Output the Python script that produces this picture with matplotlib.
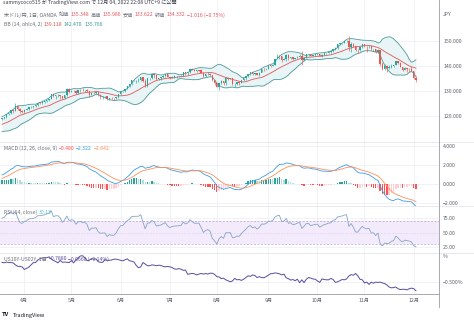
import numpy as np
import pandas as pd
import matplotlib
matplotlib.use("Agg")
import matplotlib.pyplot as plt
from matplotlib.lines import Line2D
from matplotlib.ticker import FixedLocator, FuncFormatter

plt.rcParams['font.family'] = ['Noto Sans CJK JP', 'DejaVu Sans']

W, H = 474, 326

# --- data: USD/JPY daily (OANDA) ---
# closes before the visible range, only used to warm up the indicators
warm_close = [114.69, 114.39, 114.99, 115.22, 115.09, 115.55, 115.56, 116.03, 115.44,
              115.58, 115.59, 115.47, 114.95, 115.00, 114.74, 115.11, 114.99, 115.53,
              115.58, 114.98, 114.88, 115.47, 115.47, 114.79, 115.31, 115.73, 115.84,
              116.14, 117.31, 118.22, 118.31, 118.72, 118.63]

dates = pd.bdate_range('2022-03-18', '2022-12-02')

close = [119.16,
         119.48, 120.80, 121.18, 122.32, 122.04,
         123.85, 122.83, 121.86, 121.68, 122.51,
         122.76, 123.61, 123.79, 123.97, 124.36,
         125.39, 125.37, 125.61, 125.87, 126.43,
         126.98, 128.89, 127.88, 128.42, 128.50,
         128.13, 127.28, 128.38, 130.86, 129.78,
         130.16, 130.10, 129.10, 130.23, 130.56,
         130.28, 130.45, 129.96, 128.33, 129.23,
         129.18, 129.41, 128.24, 127.77, 127.87,
         127.87, 126.81, 127.30, 127.11, 127.09,
         127.63, 128.74, 129.83, 129.89, 130.88,
         131.87, 132.62, 134.23, 134.38, 134.40,
         134.40, 135.46, 133.97, 132.18, 135.04,
         135.06, 136.64, 136.22, 134.95, 135.23,
         135.44, 136.12, 136.61, 135.73, 135.23,
         135.71, 135.88, 135.93, 135.99, 136.10,
         137.43, 137.03, 137.42, 138.94, 138.55,
         138.17, 138.21, 138.20, 137.35, 136.10,
         136.68, 136.93, 136.55, 134.26, 133.25,
         131.61, 133.13, 133.82, 133.00, 135.02,
         134.98, 135.08, 132.89, 132.99, 133.46,
         133.28, 134.21, 135.05, 135.87, 136.89,
         137.46, 136.76, 137.19, 136.51, 137.23,
         138.74, 138.71, 138.96, 140.21, 140.19,
         140.50, 142.74, 143.78, 144.04, 142.52,
         142.85, 144.55, 143.18, 143.52, 142.95,
         143.19, 143.72, 144.09, 142.38, 143.34,
         144.74, 144.78, 144.18, 144.45, 144.74,
         144.83, 144.07, 144.59, 145.12, 145.33,
         145.72, 145.82, 146.88, 147.19, 148.70,
         149.02, 149.26, 149.88, 150.13, 147.65,
         148.97, 147.96, 146.36, 146.27, 147.50,
         148.71, 148.17, 147.90, 148.06, 146.61,
         146.63, 145.65, 146.43, 140.91, 138.78,
         139.92, 139.34, 139.50, 140.20, 140.38,
         142.15, 141.20, 139.56, 138.56, 139.23,
         138.92, 138.68, 138.07, 135.35, 134.33]

high = [119.4,
        119.5, 121.0, 121.4, 122.4, 122.4,
        125.1, 124.3, 123.3, 122.4, 123.0,
        123.1, 123.7, 124.0, 124.2, 124.7,
        125.8, 125.6, 126.3, 126.0, 126.6,
        127.0, 129.0, 129.4, 128.5, 128.8,
        128.6, 128.2, 128.6, 131.2, 131.1,
        130.4, 130.4, 130.4, 130.4, 131.0,
        131.3, 130.5, 130.8, 130.0, 129.4,
        129.5, 129.7, 129.6, 128.9, 128.0,
        128.0, 127.9, 127.4, 127.6, 127.3,
        127.8, 128.8, 130.1, 130.0, 130.9,
        131.9, 133.0, 134.5, 134.6, 134.6,
        135.2, 135.6, 135.6, 134.7, 135.4,
        135.4, 136.7, 136.7, 136.3, 135.4,
        135.6, 136.4, 137.0, 136.8, 135.7,
        136.0, 136.4, 136.0, 136.2, 136.6,
        137.7, 137.8, 137.6, 139.4, 139.3,
        138.9, 138.4, 138.4, 138.9, 137.5,
        136.9, 137.5, 137.4, 136.5, 134.5,
        133.4, 133.3, 134.5, 134.0, 135.5,
        135.6, 135.4, 135.2, 133.2, 133.7,
        133.8, 134.4, 135.4, 136.0, 137.0,
        137.7, 137.7, 137.3, 137.3, 137.6,
        139.0, 139.1, 139.1, 140.3, 140.4,
        140.8, 143.0, 145.0, 144.4, 144.1,
        143.3, 144.9, 144.9, 143.8, 143.7,
        143.4, 143.9, 144.7, 145.9, 143.6,
        144.8, 144.9, 144.9, 144.6, 144.8,
        145.4, 144.9, 144.7, 145.3, 145.4,
        145.9, 146.0, 146.9, 147.7, 148.9,
        149.1, 149.4, 149.9, 150.3, 151.9,
        149.7, 149.1, 148.0, 146.7, 147.9,
        148.8, 148.8, 148.1, 148.4, 148.1,
        147.0, 146.8, 146.8, 146.6, 141.7,
        140.8, 140.6, 140.3, 140.8, 140.5,
        142.2, 142.2, 141.5, 139.7, 139.5,
        139.2, 139.1, 139.9, 138.1, 136.0]

low = [118.4,
       118.9, 119.2, 120.4, 121.0, 121.4,
       122.0, 122.4, 121.2, 121.3, 121.3,
       122.3, 122.6, 123.2, 123.3, 123.8,
       124.1, 124.9, 124.7, 125.2, 125.8,
       126.1, 126.9, 127.5, 127.0, 127.7,
       127.0, 126.9, 127.0, 128.2, 129.3,
       129.5, 129.8, 128.8, 128.7, 129.8,
       130.0, 129.8, 129.7, 127.5, 128.4,
       128.8, 128.9, 128.0, 127.0, 127.0,
       127.2, 126.4, 126.6, 126.8, 126.6,
       126.9, 127.4, 128.6, 129.5, 129.8,
       130.8, 131.7, 132.5, 133.9, 133.4,
       133.6, 134.2, 133.5, 131.5, 131.7,
       134.3, 134.8, 135.4, 134.3, 134.5,
       134.5, 135.2, 135.8, 135.5, 134.7,
       135.1, 135.3, 135.3, 135.6, 135.6,
       136.1, 136.6, 136.4, 137.3, 138.4,
       137.9, 137.7, 137.9, 137.1, 135.6,
       135.6, 136.3, 136.2, 134.2, 132.5,
       131.6, 130.4, 132.8, 132.5, 132.5,
       134.4, 134.7, 132.5, 131.7, 132.6,
       132.6, 133.2, 134.1, 134.6, 135.6,
       136.6, 136.4, 136.3, 136.3, 136.1,
       137.6, 138.1, 138.4, 138.7, 139.6,
       140.0, 140.5, 143.2, 143.0, 141.5,
       142.5, 142.0, 142.6, 143.0, 142.6,
       142.8, 143.1, 143.5, 140.3, 142.1,
       143.3, 144.2, 144.0, 144.1, 144.2,
       144.5, 143.9, 143.8, 144.4, 144.8,
       145.3, 145.3, 145.8, 146.4, 147.0,
       148.6, 148.8, 149.2, 149.6, 146.2,
       145.5, 147.6, 146.1, 145.1, 146.0,
       147.3, 147.5, 145.7, 147.3, 146.4,
       146.1, 145.3, 145.3, 140.2, 138.5,
       138.4, 137.7, 138.7, 139.3, 139.6,
       140.4, 141.0, 139.5, 138.0, 138.3,
       137.5, 137.8, 137.9, 135.0, 133.6]

# US10Y-US02Y spread (%)
spread = [0.20,
          0.18, 0.21, 0.19, 0.19, 0.18,
          0.11, 0.06, 0.06, 0.04, -0.05,
          -0.01, 0.03, 0.11, 0.19, 0.19,
          0.28, 0.33, 0.35, 0.35, 0.36,
          0.39, 0.32, 0.26, 0.23, 0.18,
          0.27, 0.20, 0.21, 0.20, 0.19,
          0.26, 0.18, 0.28, 0.35, 0.42,
          0.43, 0.36, 0.26, 0.27, 0.33,
          0.31, 0.32, 0.22, 0.20, 0.20,
          0.29, 0.27, 0.27, 0.28, 0.31,
          0.31, 0.29, 0.27, 0.25, 0.29,
          0.32, 0.25, 0.24, 0.21, 0.09,
          0.01, 0.04, 0.19, 0.14, 0.08,
          0.08, 0.11, 0.10, 0.08, 0.10,
          0.09, 0.06, 0.04, 0.06, 0.04,
          0.02, -0.03, -0.04, -0.02, -0.04,
          -0.08, -0.07, -0.22, -0.20, -0.19,
          -0.20, -0.24, -0.21, -0.19, -0.21,
          -0.19, -0.21, -0.18, -0.18, -0.22,
          -0.30, -0.31, -0.37, -0.35, -0.41,
          -0.44, -0.48, -0.45, -0.36, -0.41,
          -0.40, -0.43, -0.39, -0.33, -0.27,
          -0.29, -0.24, -0.26, -0.33, -0.30,
          -0.33, -0.34, -0.30, -0.25, -0.20,
          -0.19, -0.17, -0.18, -0.20, -0.24,
          -0.21, -0.34, -0.37, -0.42, -0.40,
          -0.44, -0.39, -0.51, -0.41, -0.51,
          -0.39, -0.33, -0.35, -0.38, -0.39,
          -0.45, -0.50, -0.38, -0.40, -0.41,
          -0.41, -0.36, -0.40, -0.50, -0.48,
          -0.44, -0.40, -0.41, -0.38, -0.28,
          -0.23, -0.25, -0.19, -0.27, -0.39,
          -0.41, -0.52, -0.49, -0.57, -0.49,
          -0.53, -0.49, -0.50, -0.49, -0.52,
          -0.54, -0.59, -0.66, -0.69, -0.68,
          -0.66, -0.72, -0.75, -0.74, -0.74,
          -0.76, -0.72, -0.70, -0.72, -0.79]

month_labels = ['4月', '5月', '6月', '7月', '8月', '9月', '10月', '11月', '12月']

# --- indicators ---
close = np.array(close)
high = np.array(high)
low = np.array(low)
opn = np.r_[warm_close[-1], close[:-1]]   # FX daily open = previous close
nw = len(warm_close)
n = len(close)
x = np.arange(n)

all_close = pd.Series(np.r_[warm_close, close])
hlc4 = pd.Series(np.r_[warm_close, (opn + high + low + close) / 4])
basis = hlc4.rolling(14).mean()
dev = hlc4.rolling(14).std(ddof=0)
bb_up = (basis + 2 * dev).values[nw:]
bb_lo = (basis - 2 * dev).values[nw:]
bb_mid = basis.values[nw:]

macd_all = all_close.ewm(span=12, adjust=False).mean() - all_close.ewm(span=26, adjust=False).mean()
sig_all = macd_all.ewm(span=9, adjust=False).mean()
hist_all = macd_all - sig_all
macd = macd_all.values[nw:]
sig = sig_all.values[nw:]
hist = hist_all.values[nw:]
hist_prev = hist_all.values[nw - 1:-1]

d = all_close.diff()
up = d.clip(lower=0).ewm(alpha=1 / 14, adjust=False).mean()
dn = (-d).clip(lower=0).ewm(alpha=1 / 14, adjust=False).mean()
rsi = (100 - 100 / (1 + up / dn)).values[nw:]

month_pos = [int(np.argmax(dates.month == m)) for m in range(4, 13)]

# --- figure ---
fig = plt.figure(figsize=(W / 100, H / 100), dpi=100)
fig.patch.set_facecolor('white')


def rect(x0, y0, x1, y1):
    return [x0 / W, 1 - y1 / H, (x1 - x0) / W, (y1 - y0) / H]


tick_col = '#5d606b'
grid_col = '#eef0f5'
fs = 3.7

ax_main = fig.add_axes(rect(0, 0, 439, 142))
ax_macd = fig.add_axes(rect(0, 142, 439, 206))
ax_rsi = fig.add_axes(rect(0, 206, 439, 253))
ax_spr = fig.add_axes(rect(0, 253, 439, 294))

for ax in [ax_main, ax_macd, ax_rsi, ax_spr]:
    ax.set_xlim(-0.89, 195.3)
    for s in ax.spines.values():
        s.set_visible(False)
    ax.yaxis.tick_right()
    ax.tick_params(axis='both', length=0, labelsize=fs, colors=tick_col)
    ax.tick_params(axis='y', pad=3)
    ax.xaxis.set_major_locator(FixedLocator(month_pos))
    ax.set_xticklabels([])
    ax.grid(True, color=grid_col, lw=0.6)
    ax.set_axisbelow(True)

minus = lambda v, fmt: (fmt % v).replace('-', '\u2212')

# main pane: bollinger bands + candles
ax_main.fill_between(x, bb_lo, bb_up, color='#e8f4f5', lw=0)
ax_main.plot(x, bb_up, color='#4b9a9a', lw=0.6)
ax_main.plot(x, bb_lo, color='#4b9a9a', lw=0.6)
ax_main.plot(x, bb_mid, color='#e0585a', lw=0.6)
up_day = close >= opn
col = np.where(up_day, '#26a69a', '#ef5350')
ax_main.vlines(x, low, high, colors=col, lw=0.45)
body = np.maximum(np.abs(close - opn), 0.08)
ax_main.bar(x, body, bottom=np.minimum(close, opn), width=0.62, color=col, lw=0)
ax_main.set_ylim(109.6, 166.4)
ax_main.set_yticks([120, 130, 140, 150])
ax_main.yaxis.set_major_formatter(FuncFormatter(lambda v, p: '%.3f' % v))

# MACD pane
hcol = np.where(hist >= 0,
                np.where(hist > hist_prev, '#26a69a', '#b2dfdb'),
                np.where(hist > hist_prev, '#ffcdd2', '#ff5252'))
ax_macd.bar(x, hist, width=0.62, color=hcol, lw=0)
ax_macd.plot(x, macd, color='#3c9de6', lw=0.6)
ax_macd.plot(x, sig, color='#ff8f5a', lw=0.6)
ax_macd.set_ylim(-2.29, 4.375)
ax_macd.set_yticks([-2, 0, 2, 4])
ax_macd.yaxis.set_major_formatter(FuncFormatter(lambda v, p: minus(v, '%.3f')))

# RSI pane
ax_rsi.axhspan(30, 70, color='#f3ebfb', lw=0)
for lvl in [70, 30]:
    ax_rsi.axhline(lvl, color='#b9a6d6', lw=0.5, ls=(0, (3, 2)))
ax_rsi.axhline(50, color='#d8cce8', lw=0.4, ls=(0, (3, 2)))
ax_rsi.plot(x, rsi, color='#86a4c6', lw=0.6)
ax_rsi.set_ylim(15.3, 94.9)
ax_rsi.set_yticks([25, 50, 75])
ax_rsi.yaxis.set_major_formatter(FuncFormatter(lambda v, p: '%.2f' % v))

# spread pane
ax_spr.plot(x, spread, color='#5b4a9e', lw=0.7)
ax_spr.set_ylim(-0.904, 0.524)
ax_spr.set_yticks([-0.5])
ax_spr.yaxis.set_major_formatter(FuncFormatter(lambda v, p: minus(v, '%.3f') + '%'))
ax_spr.set_xticklabels(month_labels)
ax_spr.tick_params(axis='x', pad=3.2)

# separators and scale lines
for yy in [142, 206, 253]:
    fig.add_artist(Line2D([0, 1], [1 - yy / H, 1 - yy / H], color='#e3e5eb', lw=0.6))
fig.add_artist(Line2D([0, 439 / W], [1 - 294 / H, 1 - 294 / H], color='#9a9ca5', lw=0.6))
fig.add_artist(Line2D([439 / W, 439 / W], [1, 1 - 307 / H], color='#9a9ca5', lw=0.6))

# --- legend texts ---
renderer = fig.canvas.get_renderer()


def seg_text(x0, y, parts, size=fs):
    xx = x0
    for s, c in parts:
        t = fig.text(xx / W, 1 - y / H, s, color=c, fontsize=size, va='center', ha='left')
        xx += t.get_window_extent(renderer=renderer).width + 1.6


gray = '#6a6d78'
red = '#e8555f'
seg_text(3, 2.5, [('sammycoco515 が TradingView.com で 12月 04, 2022 22:08 UTC+9 に公開', '#3a3d48')])
seg_text(4, 15, [('米ドル/円, 1日, OANDA', gray), ('始値', gray), ('135.348', red), ('高値', gray),
                 ('135.986', red), ('安値', gray), ('133.622', red), ('終値', gray), ('134.332', red),
                 ('\u22121.016 (\u22120.75%)', red)])
seg_text(4, 24, [('BB (14, ohlc4, 2)', gray), ('139.118', '#d9534f'), ('142.470', '#3f9a9a'),
                 ('135.766', '#3f9a9a')])
seg_text(4, 148.5, [('MACD (12, 26, close, 9)', gray), ('\u22120.480', '#ff5252'),
                    ('\u22122.322', '#3c9de6'), ('\u22121.842', '#ff8f5a')])
seg_text(4, 212, [('RSI (14, close)', gray), ('30.13', '#4cc1d0')])
seg_text(4, 259, [('US10Y-US02Y, 1日', gray), ('\u22120.7880', '#5b4a9e'),
                  ('\u22120.0660 (\u22129.14%)', '#5b4a9e')])

fig.text(443 / W, 1 - 15 / H, 'JPY', fontsize=fs, color=tick_col, va='center', ha='left')
fig.text(443 / W, 1 - 257 / H, '%', fontsize=fs, color=tick_col, va='center', ha='left')

# footer
fig.text(2 / W, 1 - 315 / H, 'TV', fontsize=4.2, color='#131722', fontweight='bold',
         va='center', ha='left')
fig.text(12.5 / W, 1 - 315 / H, 'TradingView', fontsize=fs + 0.3, color='#131722',
         va='center', ha='left')

fig.savefig('out.png', dpi=100, facecolor='white')
